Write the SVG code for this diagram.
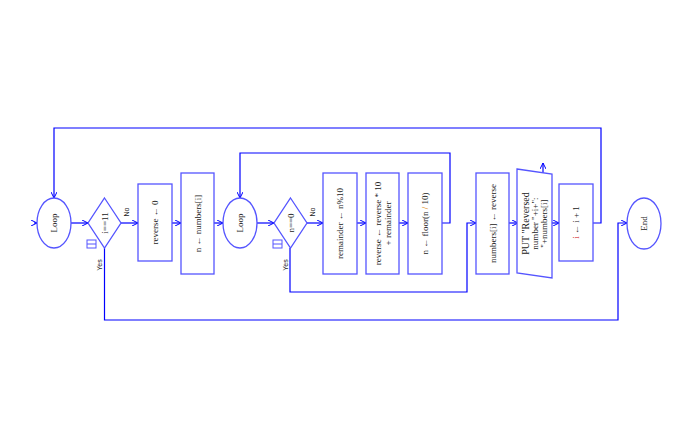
<svg xmlns="http://www.w3.org/2000/svg" width="685" height="444" viewBox="0 0 685 444">
<defs>
<marker id="a" viewBox="0 0 6 6" refX="6" refY="3" markerWidth="5" markerHeight="5" orient="auto"><path d="M0,0 L6,3 L0,6" fill="none" stroke="#0000ff" stroke-width="1"/></marker>
</defs>
<style>
.n{fill:#fff;stroke:#5555ff;stroke-width:1.3}
.c{fill:none;stroke:#0000ff;stroke-width:1.2}
text{font-family:"Liberation Serif",serif;font-size:9px;fill:#222;text-anchor:middle;dominant-baseline:central}
.s{font-family:"Liberation Sans",sans-serif;font-size:7px}
</style>
<rect width="685" height="444" fill="#fff"/>
<g id="connectors">
<path class="c" d="M34,223 H37" marker-end="url(#a)"/>
<path class="c" d="M71,223 H88" marker-end="url(#a)"/>
<path class="c" d="M121,223 H138" marker-end="url(#a)"/>
<path class="c" d="M172,223 H181" marker-end="url(#a)"/>
<path class="c" d="M214,223 H223" marker-end="url(#a)"/>
<path class="c" d="M257,223 H274" marker-end="url(#a)"/>
<path class="c" d="M307,223 H323" marker-end="url(#a)"/>
<path class="c" d="M357,223 H366" marker-end="url(#a)"/>
<path class="c" d="M399,223 H408" marker-end="url(#a)"/>
<path class="c" d="M442,223 H450 V153 H240 V198" marker-end="url(#a)"/>
<path class="c" d="M290,248 V292 H467 V223 H476" marker-end="url(#a)"/>
<path class="c" d="M509,223 H518" marker-end="url(#a)"/>
<path class="c" d="M552,223 H559" marker-end="url(#a)"/>
<path class="c" d="M543,174 V163" marker-end="url(#a)"/>
<path class="c" d="M593,223 H601 V128 H54 V198" marker-end="url(#a)"/>
<path class="c" d="M104.5,248 V320 H618 V223 H627" marker-end="url(#a)"/>
</g>
<g id="loop1"><ellipse class="n" cx="54" cy="223" rx="17" ry="25"/><text transform="translate(54,223) rotate(-90)">Loop</text></g>
<g id="cond1"><path class="n" d="M104.5,198 L121,223 L104.5,248 L88,223 Z"/><text transform="translate(104.5,223) rotate(-90)">i==11</text>
<rect x="87" y="240" width="9" height="8" fill="none" stroke="#5555ff"/><line x1="87" y1="244" x2="96" y2="244" stroke="#5555ff"/>
<text class="s" transform="translate(126,212) rotate(-90)">No</text><text class="s" transform="translate(99,265) rotate(-90)">Yes</text></g>
<g id="rev0"><rect class="n" x="138" y="184" width="34" height="77"/><text transform="translate(155,222.5) rotate(-90)">reverse ← 0</text></g>
<g id="nset"><rect class="n" x="181" y="173" width="33" height="101"/><text transform="translate(197.5,223.5) rotate(-90)">n ← numbers[i]</text></g>
<g id="loop2"><ellipse class="n" cx="240" cy="223" rx="17" ry="25"/><text transform="translate(240,223) rotate(-90)">Loop</text></g>
<g id="cond2"><path class="n" d="M290.5,198 L307,223 L290.5,248 L274,223 Z"/><text transform="translate(290.5,223) rotate(-90)">n==0</text>
<rect x="273" y="240" width="9" height="8" fill="none" stroke="#5555ff"/><line x1="273" y1="244" x2="282" y2="244" stroke="#5555ff"/>
<text class="s" transform="translate(312,212) rotate(-90)">No</text><text class="s" transform="translate(285,265) rotate(-90)">Yes</text></g>
<g id="rem"><rect class="n" x="323" y="173" width="34" height="101"/><text transform="translate(340,223.5) rotate(-90)">remainder ← n%10</text></g>
<g id="rev10"><rect class="n" x="366" y="173" width="33" height="101"/><text transform="translate(382.5,223.5) rotate(-90)"><tspan x="0" dy="-5">reverse ← reverse * 10</tspan><tspan x="0" dy="10">+ remainder</tspan></text></g>
<g id="floor"><rect class="n" x="408" y="173" width="34" height="101"/><text transform="translate(425,223.5) rotate(-90)">n ← floor(n <tspan fill="#e08000">/</tspan> 10)</text></g>
<g id="store"><rect class="n" x="476" y="173" width="33" height="101"/><text transform="translate(492.5,223.5) rotate(-90)">numbers[i] ← reverse</text></g>
<g id="put"><path class="n" d="M517,169 L552,174 L552,278 L517,273 Z"/><text transform="translate(534.5,223.5) rotate(-90)"><tspan x="0" dy="-10" font-size="10">PUT "Reversed</tspan><tspan x="0" dy="10">number "+i+":</tspan><tspan x="0" dy="9">"+numbers[i]</tspan></text></g>
<g id="inc"><rect class="n" x="559" y="184" width="34" height="77"/><text transform="translate(576,222.5) rotate(-90)"><tspan fill="#cc0000">i</tspan> ← i + 1</text></g>
<g id="end"><ellipse class="n" cx="644" cy="223.5" rx="17" ry="25.5"/><text transform="translate(644,223.5) rotate(-90)">End</text></g>
</svg>
